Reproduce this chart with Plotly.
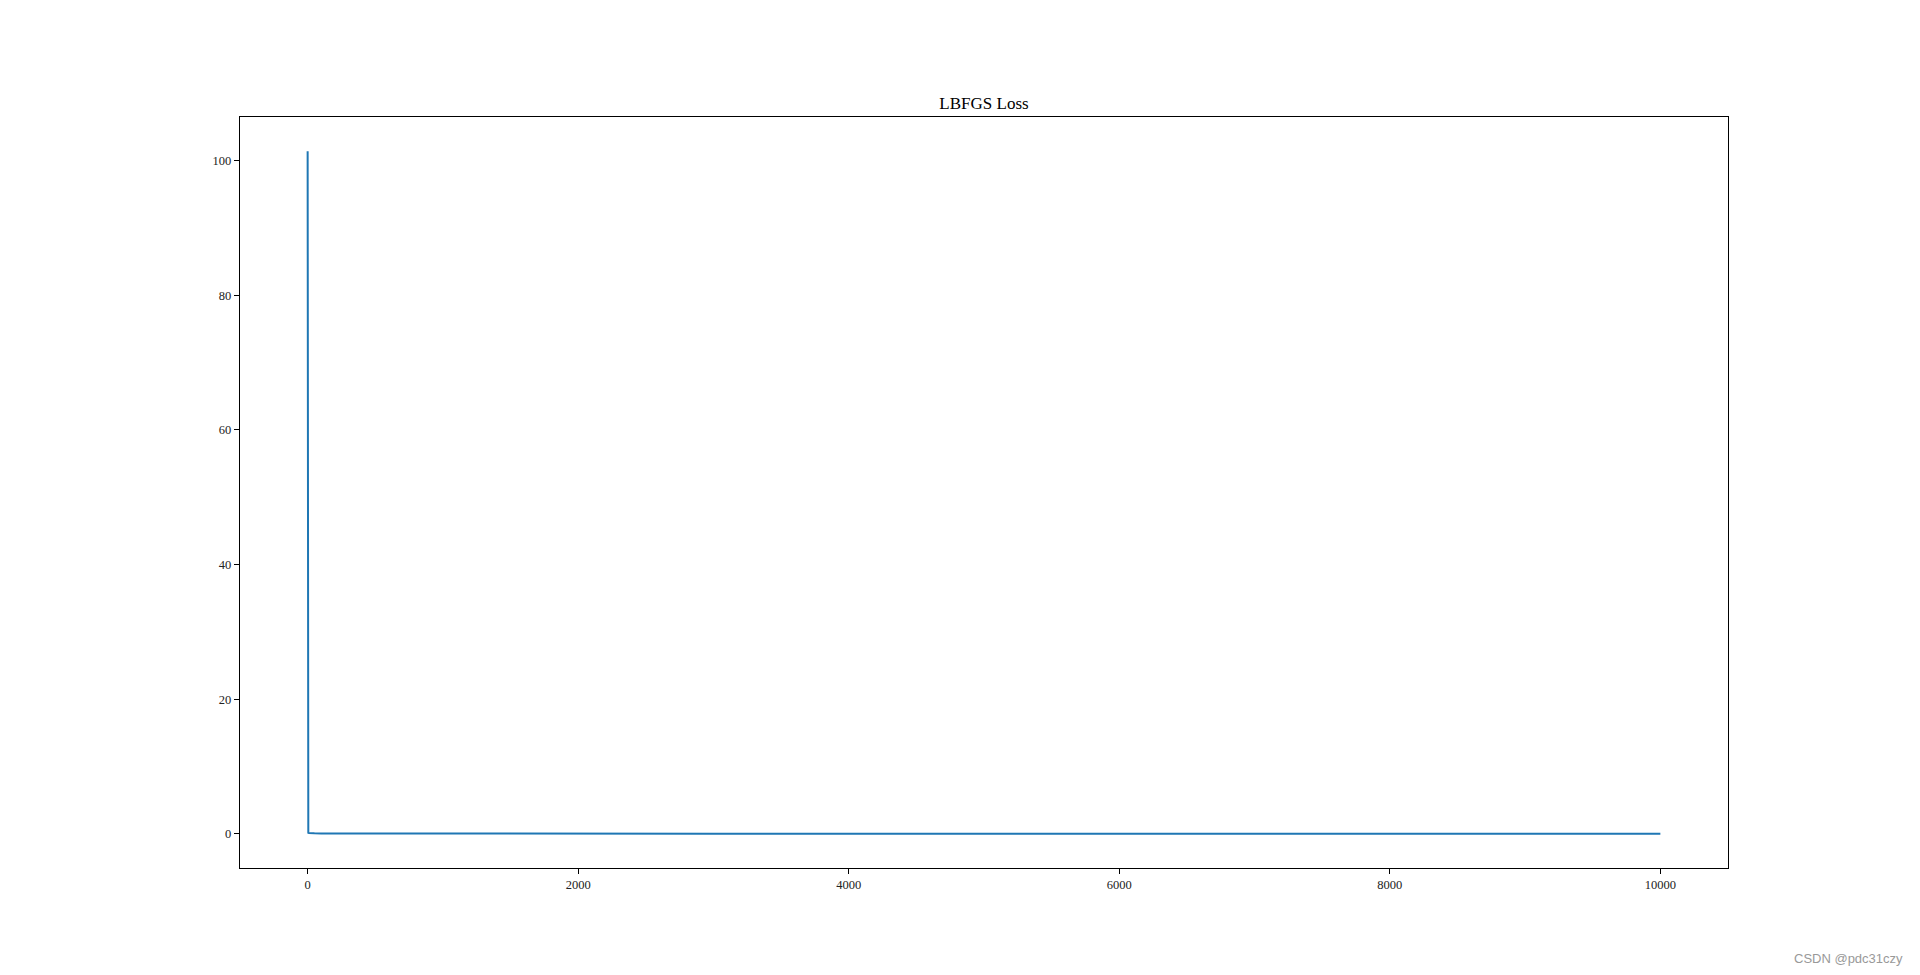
import plotly.graph_objects as go

# LBFGS loss history
iterations = [0, 1, 2, 3, 5, 10, 20, 50, 100, 500, 1000, 2000, 3000, 4000,
              5000, 6000, 7000, 8000, 9000, 10000]
loss = [101.4, 0.35, 0.22, 0.18, 0.15, 0.12, 0.1, 0.08, 0.07, 0.05, 0.04, 0.03,
        0.025, 0.02, 0.018, 0.015, 0.012, 0.01, 0.008, 0.007]

x_ticks = [0, 2000, 4000, 6000, 8000, 10000]
x_labels = ["0", "2000", "4000", "6000", "8000", "10000"]
y_ticks = [0, 20, 40, 60, 80, 100]

serif = "Liberation Serif, DejaVu Serif, serif"

fig = go.Figure(go.Scatter(
    x=iterations, y=loss, mode="lines",
    line=dict(color="#1f77b4", width=2),
    showlegend=False,
))

axis_style = dict(
    showline=True, linecolor="black", linewidth=1.3, mirror=True,
    showgrid=False, zeroline=False,
    ticks="outside", ticklen=5, tickwidth=1.2, tickcolor="black",
    tickfont=dict(family=serif, size=12.5, color="#222"),
)

fig.update_xaxes(range=[-500, 10500], tickvals=x_ticks, ticktext=x_labels, **axis_style)
fig.update_yaxes(range=[-5.07, 106.47], tickvals=y_ticks, **axis_style)

fig.update_layout(
    width=1920, height=975,
    margin=dict(l=232, r=200, t=109, b=115),
    paper_bgcolor="white", plot_bgcolor="white",
    title=dict(text="LBFGS Loss", x=0.5, xref="paper", y=0.9026, yanchor="middle",
               font=dict(family=serif, size=17, color="black")),
)

fig.add_annotation(
    text="CSDN @pdc31czy", xref="paper", yref="paper",
    x=1.119, y=-0.12, xanchor="right", yanchor="middle", showarrow=False,
    font=dict(family="Liberation Sans, Arial, sans-serif", size=13, color="#999"),
)

fig.write_html("out.html")
